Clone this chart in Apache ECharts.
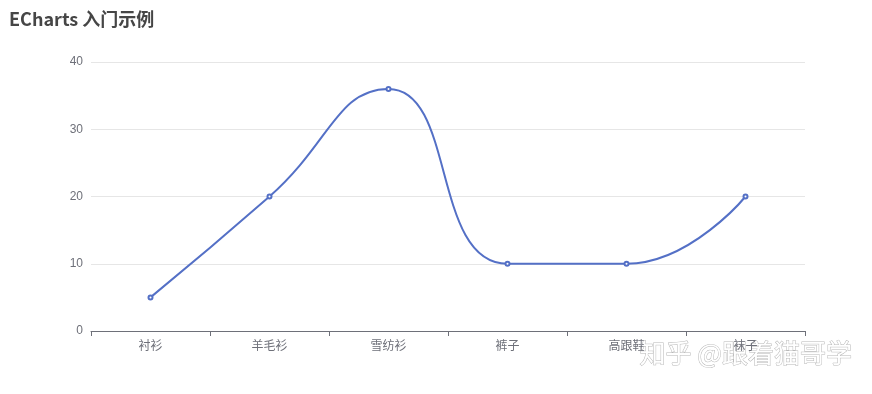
<!DOCTYPE html>
<html>
<head>
<meta charset="utf-8">
<script src="https://cdn.jsdelivr.net/npm/echarts@6/dist/echarts.min.js"></script>
<style>html,body{margin:0;padding:0;background:#fff;}#main{width:872px;height:394px;}</style>
</head>
<body>
<div id="main"></div>
<script>
const categories = ['衬衫', '羊毛衫', '雪纺衫', '裤子', '高跟鞋', '袜子'];
const salesValues = [5, 20, 36, 10, 10, 20];
const chart = echarts.init(document.getElementById('main'));
chart.setOption({
  animation: false,
  title: {
    text: 'ECharts 入门示例',
    left: 4, top: 5,
    textStyle: { fontSize: 18, fontWeight: 'bold', color: '#464646', fontFamily: 'Noto Sans CJK SC' }
  },
  grid: { left: 91, right: 67, top: 62, bottom: 63 },
  xAxis: {
    type: 'category',
    data: categories,
    axisLine: { lineStyle: { color: '#6e7079' } },
    axisTick: { show: true, alignWithLabel: false, length: 5, lineStyle: { color: '#6e7079' } },
    axisLabel: { color: '#6e7079', fontSize: 12, fontFamily: 'Noto Sans CJK SC' }
  },
  yAxis: {
    type: 'value',
    min: 0, max: 40, interval: 10,
    axisLabel: { color: '#6e7079', fontSize: 12 },
    splitLine: { lineStyle: { color: '#e6e6e6' } }
  },
  series: [{
    name: '销量',
    type: 'line',
    smooth: true,
    data: salesValues,
    symbol: 'emptyCircle',
    symbolSize: 4,
    itemStyle: { color: '#5470c6' },
    lineStyle: { width: 2 }
  }],
  graphic: [{
    type: 'text',
    left: 639, top: 340,
    style: {
      text: '知乎 @跟着猫哥学',
      font: '26px "Noto Sans CJK SC"',
      fill: '#ffffff',
      stroke: '#b8b8b8',
      lineWidth: 1,
      shadowColor: 'rgba(0,0,0,0.35)',
      shadowBlur: 2,
      shadowOffsetX: 1,
      shadowOffsetY: 1
    }
  }]
});
</script>
</body>
</html>
